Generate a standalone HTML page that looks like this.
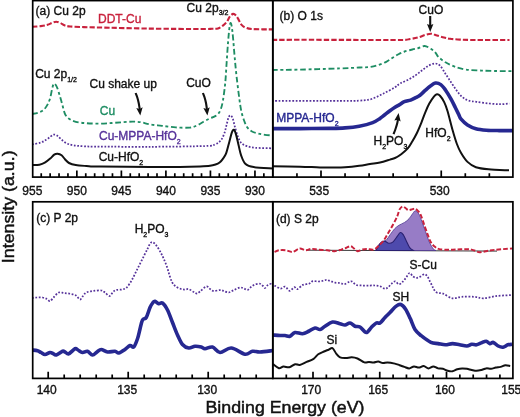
<!DOCTYPE html>
<html><head><meta charset="utf-8"><title>XPS spectra</title>
<style>html,body{margin:0;padding:0;background:#fff;}svg{display:block;}</style>
</head><body>
<svg width="520" height="417" viewBox="0 0 520 417"><defs><clipPath id="ca"><rect x="32.7" y="0.6" width="240.10000000000002" height="176.5"/></clipPath><clipPath id="cb"><rect x="272.8" y="0.6" width="240.09999999999997" height="176.5"/></clipPath><clipPath id="cc"><rect x="32.7" y="201.8" width="240.10000000000002" height="176.59999999999997"/></clipPath><clipPath id="cd"><rect x="272.8" y="201.8" width="240.09999999999997" height="176.59999999999997"/></clipPath></defs><rect width="520" height="417" fill="#fff"/><g clip-path="url(#ca)"><path d="M32.00,26.80 C33.47,26.68 38.22,26.43 40.80,26.10 C43.38,25.77 45.60,25.35 47.50,24.80 C49.40,24.25 50.75,23.32 52.20,22.80 C53.65,22.28 54.85,21.67 56.20,21.70 C57.55,21.73 58.83,22.37 60.30,23.00 C61.77,23.63 63.32,24.92 65.00,25.50 C66.68,26.08 67.27,26.23 70.40,26.50 C73.53,26.77 78.87,26.93 83.80,27.10 C88.73,27.27 88.97,27.25 100.00,27.50 C111.03,27.75 133.33,28.35 150.00,28.60 C166.67,28.85 189.67,28.97 200.00,29.00 C210.33,29.03 209.00,28.90 212.00,28.80 C215.00,28.70 216.18,28.93 218.00,28.40 C219.82,27.87 221.40,26.75 222.90,25.60 C224.40,24.45 225.85,23.00 227.00,21.50 C228.15,20.00 228.77,17.87 229.80,16.60 C230.83,15.33 232.12,14.02 233.20,13.90 C234.28,13.78 235.37,14.87 236.30,15.90 C237.23,16.93 237.92,18.60 238.80,20.10 C239.68,21.60 240.45,23.63 241.60,24.90 C242.75,26.17 243.87,27.00 245.70,27.70 C247.53,28.40 248.05,28.82 252.60,29.10 C257.15,29.38 269.60,29.35 273.00,29.40" fill="none" stroke="#c8213c" stroke-width="2.1" stroke-dasharray="5.3 2.1" stroke-linejoin="round"/><path d="M32.00,114.00 C33.00,113.78 36.08,113.37 38.00,112.70 C39.92,112.03 41.92,111.35 43.50,110.00 C45.08,108.65 46.38,106.62 47.50,104.60 C48.62,102.58 49.42,100.58 50.20,97.90 C50.98,95.22 51.57,90.87 52.20,88.50 C52.83,86.13 53.22,83.93 54.00,83.70 C54.78,83.47 55.97,85.18 56.90,87.10 C57.83,89.02 58.70,92.28 59.60,95.20 C60.50,98.12 61.40,101.47 62.30,104.60 C63.20,107.73 63.88,111.65 65.00,114.00 C66.12,116.35 67.20,117.40 69.00,118.70 C70.80,120.00 72.88,121.05 75.80,121.80 C78.72,122.55 82.47,122.90 86.50,123.20 C90.53,123.50 95.77,123.63 100.00,123.60 C104.23,123.57 108.12,123.23 111.90,123.00 C115.68,122.77 119.23,122.43 122.70,122.20 C126.17,121.97 129.60,121.58 132.70,121.60 C135.80,121.62 138.42,121.83 141.30,122.30 C144.18,122.77 146.55,123.82 150.00,124.40 C153.45,124.98 157.70,125.30 162.00,125.80 C166.30,126.30 171.13,127.10 175.80,127.40 C180.47,127.70 186.47,127.93 190.00,127.60 C193.53,127.27 194.75,126.37 197.00,125.40 C199.25,124.43 201.50,122.90 203.50,121.80 C205.50,120.70 207.42,119.57 209.00,118.80 C210.58,118.03 211.58,117.92 213.00,117.20 C214.42,116.48 216.25,115.70 217.50,114.50 C218.75,113.30 219.60,112.30 220.50,110.00 C221.40,107.70 222.12,105.13 222.90,100.70 C223.68,96.27 224.58,89.65 225.20,83.40 C225.82,77.15 226.13,69.93 226.60,63.20 C227.07,56.47 227.53,48.87 228.00,43.00 C228.47,37.13 228.97,31.35 229.40,28.00 C229.83,24.65 230.20,23.07 230.60,22.90 C231.00,22.73 231.40,24.60 231.80,27.00 C232.20,29.40 232.52,32.22 233.00,37.30 C233.48,42.38 234.08,50.78 234.70,57.50 C235.32,64.22 235.88,70.40 236.70,77.60 C237.52,84.80 238.80,94.97 239.60,100.70 C240.40,106.43 240.78,108.78 241.50,112.00 C242.22,115.22 242.98,117.50 243.90,120.00 C244.82,122.50 245.65,125.08 247.00,127.00 C248.35,128.92 250.12,130.42 252.00,131.50 C253.88,132.58 256.13,132.95 258.30,133.50 C260.47,134.05 262.55,134.47 265.00,134.80 C267.45,135.13 271.67,135.38 273.00,135.50" fill="none" stroke="#1e8d63" stroke-width="1.85" stroke-dasharray="5.8 2.7 2.9 2.7" stroke-linejoin="round"/><path d="M32.00,144.50 C33.47,144.17 38.43,143.28 40.80,142.50 C43.17,141.72 44.63,140.75 46.20,139.80 C47.77,138.85 48.97,137.65 50.20,136.80 C51.43,135.95 52.48,134.92 53.60,134.70 C54.72,134.48 55.67,134.77 56.90,135.50 C58.13,136.23 59.43,137.82 61.00,139.10 C62.57,140.38 64.28,142.18 66.30,143.20 C68.32,144.22 70.18,144.68 73.10,145.20 C76.02,145.72 79.32,146.07 83.80,146.30 C88.28,146.53 88.97,146.52 100.00,146.60 C111.03,146.68 132.50,146.90 150.00,146.80 C167.50,146.70 194.15,146.42 205.00,146.00 C215.85,145.58 212.45,145.27 215.10,144.30 C217.75,143.33 219.37,142.00 220.90,140.20 C222.43,138.40 223.37,136.02 224.30,133.50 C225.23,130.98 225.80,127.75 226.50,125.10 C227.20,122.45 227.83,119.22 228.50,117.60 C229.17,115.98 229.80,115.27 230.50,115.40 C231.20,115.53 231.97,116.50 232.70,118.40 C233.43,120.30 234.07,123.87 234.90,126.80 C235.73,129.73 236.67,133.33 237.70,136.00 C238.73,138.67 239.57,141.12 241.10,142.80 C242.63,144.48 244.53,145.27 246.90,146.10 C249.27,146.93 250.95,147.43 255.30,147.80 C259.65,148.17 270.05,148.22 273.00,148.30" fill="none" stroke="#56329a" stroke-width="1.75" stroke-dasharray="1.75 1.65" stroke-linejoin="round"/><path d="M32.00,165.10 C33.23,165.03 37.27,165.10 39.40,164.70 C41.53,164.30 43.00,163.72 44.80,162.70 C46.60,161.68 48.63,159.95 50.20,158.60 C51.77,157.25 52.97,155.42 54.20,154.60 C55.43,153.78 56.37,153.58 57.60,153.70 C58.83,153.82 60.37,154.37 61.60,155.30 C62.83,156.23 63.77,158.02 65.00,159.30 C66.23,160.58 67.20,162.03 69.00,163.00 C70.80,163.97 72.88,164.60 75.80,165.10 C78.72,165.60 82.47,165.75 86.50,166.00 C90.53,166.25 89.42,166.43 100.00,166.60 C110.58,166.77 136.67,166.95 150.00,167.00 C163.33,167.05 171.67,167.00 180.00,166.90 C188.33,166.80 195.00,166.58 200.00,166.40 C205.00,166.22 207.42,166.12 210.00,165.80 C212.58,165.48 213.90,165.05 215.50,164.50 C217.10,163.95 218.43,163.37 219.60,162.50 C220.77,161.63 221.43,160.77 222.50,159.30 C223.57,157.83 224.87,156.60 226.00,153.70 C227.13,150.80 228.33,145.40 229.30,141.90 C230.27,138.40 231.03,134.72 231.80,132.70 C232.57,130.68 233.20,129.52 233.90,129.80 C234.60,130.08 235.22,131.82 236.00,134.40 C236.78,136.98 237.75,141.82 238.60,145.30 C239.45,148.78 239.98,152.23 241.10,155.30 C242.22,158.37 243.20,161.73 245.30,163.70 C247.40,165.67 249.08,166.32 253.70,167.10 C258.32,167.88 269.78,168.18 273.00,168.40" fill="none" stroke="#111" stroke-width="2.0" stroke-linejoin="round"/></g><g clip-path="url(#cb)"><path d="M272.00,39.90 C276.67,39.88 287.00,39.80 300.00,39.80 C313.00,39.80 333.33,39.87 350.00,39.90 C366.67,39.93 390.00,40.15 400.00,40.00 C410.00,39.85 407.00,39.42 410.00,39.00 C413.00,38.58 415.50,38.17 418.00,37.50 C420.50,36.83 422.79,35.62 425.00,35.00 C427.21,34.38 429.25,33.67 431.25,33.75 C433.25,33.83 434.88,34.88 437.00,35.50 C439.12,36.12 441.83,36.96 444.00,37.50 C446.17,38.04 447.33,38.40 450.00,38.75 C452.67,39.10 455.83,39.39 460.00,39.60 C464.17,39.81 466.75,39.93 475.00,40.00 C483.25,40.07 503.75,40.00 509.50,40.00" fill="none" stroke="#c8213c" stroke-width="2.1" stroke-dasharray="5.3 2.1" stroke-linejoin="round"/><path d="M272.00,70.00 C276.67,69.93 288.67,69.87 300.00,69.60 C311.33,69.33 330.00,68.75 340.00,68.40 C350.00,68.05 354.87,67.75 360.00,67.50 C365.13,67.25 367.72,67.33 370.80,66.90 C373.88,66.47 375.93,65.75 378.50,64.90 C381.07,64.05 383.90,62.95 386.20,61.80 C388.50,60.65 390.25,59.27 392.30,58.00 C394.35,56.73 396.45,55.28 398.50,54.20 C400.55,53.12 402.30,52.28 404.60,51.50 C406.90,50.72 409.98,50.08 412.30,49.50 C414.62,48.92 416.45,48.58 418.50,48.00 C420.55,47.42 422.55,45.87 424.60,46.00 C426.65,46.13 429.00,47.70 430.80,48.80 C432.60,49.90 434.12,51.23 435.40,52.60 C436.68,53.97 436.82,55.38 438.50,57.00 C440.18,58.62 442.80,60.70 445.50,62.30 C448.20,63.90 451.25,65.38 454.70,66.60 C458.15,67.82 461.98,68.95 466.20,69.60 C470.42,70.25 475.20,70.27 480.00,70.50 C484.80,70.73 489.50,70.88 495.00,71.00 C500.50,71.12 510.00,71.17 513.00,71.20" fill="none" stroke="#1e8d63" stroke-width="1.85" stroke-dasharray="5.8 2.7 2.9 2.7" stroke-linejoin="round"/><path d="M272.00,100.90 C283.33,100.90 325.33,100.95 340.00,100.90 C354.67,100.85 354.75,100.92 360.00,100.60 C365.25,100.28 367.65,100.15 371.50,99.00 C375.35,97.85 379.25,95.62 383.10,93.70 C386.95,91.78 391.78,89.20 394.60,87.50 C397.42,85.80 397.82,84.75 400.00,83.50 C402.18,82.25 405.13,81.35 407.70,80.00 C410.27,78.65 413.10,76.93 415.40,75.40 C417.70,73.87 419.45,72.33 421.50,70.80 C423.55,69.27 425.52,67.42 427.70,66.20 C429.88,64.98 432.55,63.60 434.60,63.50 C436.65,63.40 438.17,63.85 440.00,65.60 C441.83,67.35 443.73,71.18 445.60,74.00 C447.47,76.82 449.32,79.68 451.20,82.50 C453.08,85.32 455.02,88.45 456.90,90.90 C458.78,93.35 460.63,95.62 462.50,97.20 C464.37,98.78 465.77,99.62 468.10,100.40 C470.43,101.18 472.98,101.38 476.50,101.90 C480.02,102.42 485.22,103.12 489.20,103.50 C493.18,103.88 497.02,104.20 500.40,104.20 C503.78,104.20 507.98,103.62 509.50,103.50" fill="none" stroke="#56329a" stroke-width="1.75" stroke-dasharray="1.75 1.65" stroke-linejoin="round"/><path d="M272.00,128.60 C276.67,128.60 290.33,128.63 300.00,128.60 C309.67,128.57 322.50,128.52 330.00,128.40 C337.50,128.28 340.13,128.27 345.00,127.90 C349.87,127.53 354.58,127.08 359.20,126.20 C363.82,125.32 369.23,123.90 372.70,122.60 C376.17,121.30 377.18,120.33 380.00,118.40 C382.82,116.47 387.10,112.87 389.60,111.00 C392.10,109.13 393.40,108.22 395.00,107.20 C396.60,106.18 397.65,105.82 399.20,104.90 C400.75,103.98 402.40,102.50 404.30,101.70 C406.20,100.90 408.78,100.73 410.60,100.10 C412.42,99.47 413.63,98.72 415.20,97.90 C416.77,97.08 418.33,96.45 420.00,95.20 C421.67,93.95 423.52,91.88 425.20,90.40 C426.88,88.92 428.40,87.53 430.10,86.30 C431.80,85.07 433.62,83.28 435.40,83.00 C437.18,82.72 439.10,83.40 440.80,84.60 C442.50,85.80 443.87,87.75 445.60,90.20 C447.33,92.65 449.57,96.37 451.20,99.30 C452.83,102.23 454.18,105.35 455.40,107.80 C456.62,110.25 457.55,112.10 458.50,114.00 C459.45,115.90 459.60,117.38 461.10,119.20 C462.60,121.02 465.03,123.32 467.50,124.90 C469.97,126.48 472.73,127.82 475.90,128.70 C479.07,129.58 482.62,129.88 486.50,130.20 C490.38,130.52 494.78,130.53 499.20,130.60 C503.62,130.67 510.70,130.60 513.00,130.60" fill="none" stroke="#262891" stroke-width="3.6" stroke-linejoin="round"/><path d="M272.00,166.20 C276.67,166.28 292.00,166.50 300.00,166.70 C308.00,166.90 314.17,167.25 320.00,167.40 C325.83,167.55 330.83,167.62 335.00,167.60 C339.17,167.58 340.97,167.60 345.00,167.30 C349.03,167.00 355.03,166.35 359.20,165.80 C363.37,165.25 366.53,164.55 370.00,164.00 C373.47,163.45 376.67,163.23 380.00,162.50 C383.33,161.77 387.50,160.35 390.00,159.60 C392.50,158.85 393.13,158.90 395.00,158.00 C396.87,157.10 399.12,155.75 401.20,154.20 C403.28,152.65 405.68,150.78 407.50,148.70 C409.32,146.62 410.55,144.28 412.10,141.70 C413.65,139.12 415.23,136.43 416.80,133.20 C418.37,129.97 420.07,125.82 421.50,122.30 C422.93,118.78 424.10,115.22 425.40,112.10 C426.70,108.98 427.88,106.18 429.30,103.60 C430.72,101.02 432.62,98.15 433.90,96.60 C435.18,95.05 435.98,94.43 437.00,94.30 C438.02,94.17 438.80,94.50 440.00,95.80 C441.20,97.10 442.95,99.57 444.20,102.10 C445.45,104.63 446.08,106.27 447.50,111.00 C448.92,115.73 451.13,125.00 452.70,130.50 C454.27,136.00 455.50,140.25 456.90,144.00 C458.30,147.75 459.33,150.02 461.10,153.00 C462.87,155.98 465.03,159.53 467.50,161.90 C469.97,164.27 472.38,165.97 475.90,167.20 C479.42,168.43 483.08,168.78 488.60,169.30 C494.12,169.82 505.60,170.13 509.00,170.30" fill="none" stroke="#111" stroke-width="2.0" stroke-linejoin="round"/></g><g clip-path="url(#cc)"><path d="M32.00,298.00 C32.83,297.92 35.25,297.58 37.00,297.50 C38.75,297.42 40.83,297.25 42.50,297.50 C44.17,297.75 45.75,298.42 47.00,299.00 C48.25,299.58 48.83,301.33 50.00,301.00 C51.17,300.67 52.54,298.42 54.00,297.00 C55.46,295.58 57.08,293.17 58.75,292.50 C60.42,291.83 62.12,292.79 64.00,293.00 C65.88,293.21 68.00,293.33 70.00,293.75 C72.00,294.17 74.33,294.54 76.00,295.50 C77.67,296.46 78.83,299.42 80.00,299.50 C81.17,299.58 81.96,297.17 83.00,296.00 C84.04,294.83 84.58,293.33 86.25,292.50 C87.92,291.67 90.50,291.33 93.00,291.00 C95.50,290.67 99.25,290.25 101.25,290.50 C103.25,290.75 103.62,291.58 105.00,292.50 C106.38,293.42 108.17,296.08 109.50,296.00 C110.83,295.92 111.88,293.00 113.00,292.00 C114.12,291.00 114.75,290.42 116.25,290.00 C117.75,289.58 120.26,289.92 122.00,289.50 C123.74,289.08 125.08,289.03 126.70,287.50 C128.32,285.97 130.17,282.88 131.70,280.30 C133.23,277.72 134.50,274.78 135.90,272.00 C137.30,269.22 138.70,266.40 140.10,263.60 C141.50,260.80 143.03,257.72 144.30,255.20 C145.57,252.68 146.72,250.47 147.70,248.50 C148.68,246.53 149.37,244.47 150.20,243.40 C151.03,242.33 151.72,241.82 152.70,242.10 C153.68,242.38 154.83,243.48 156.10,245.10 C157.37,246.72 159.05,249.57 160.30,251.80 C161.55,254.03 162.48,255.98 163.60,258.50 C164.72,261.02 166.02,264.10 167.00,266.90 C167.98,269.70 168.67,272.78 169.50,275.30 C170.33,277.82 171.02,280.18 172.00,282.00 C172.98,283.82 174.00,285.08 175.40,286.20 C176.80,287.32 178.87,288.13 180.40,288.70 C181.93,289.27 183.20,289.53 184.60,289.60 C186.00,289.67 187.27,288.68 188.80,289.10 C190.33,289.52 192.43,291.37 193.80,292.10 C195.17,292.83 195.97,293.60 197.00,293.50 C198.03,293.40 198.46,292.67 200.00,291.50 C201.54,290.33 204.58,286.92 206.25,286.50 C207.92,286.08 208.75,288.25 210.00,289.00 C211.25,289.75 212.08,290.83 213.75,291.00 C215.42,291.17 218.29,290.00 220.00,290.00 C221.71,290.00 222.54,290.58 224.00,291.00 C225.46,291.42 227.08,292.67 228.75,292.50 C230.42,292.33 232.12,290.83 234.00,290.00 C235.88,289.17 238.33,287.75 240.00,287.50 C241.67,287.25 242.75,288.08 244.00,288.50 C245.25,288.92 246.33,290.25 247.50,290.00 C248.67,289.75 249.75,287.92 251.00,287.00 C252.25,286.08 253.50,285.04 255.00,284.50 C256.50,283.96 258.67,283.50 260.00,283.75 C261.33,284.00 262.17,285.29 263.00,286.00 C263.83,286.71 264.17,288.17 265.00,288.00 C265.83,287.83 266.67,285.83 268.00,285.00 C269.33,284.17 272.17,283.33 273.00,283.00" fill="none" stroke="#56329a" stroke-width="1.75" stroke-dasharray="1.75 1.65" stroke-linejoin="round"/><path d="M32.00,350.00 C32.92,350.12 36.00,350.33 37.50,350.75 C39.00,351.17 39.75,351.88 41.00,352.50 C42.25,353.12 43.50,354.50 45.00,354.50 C46.50,354.50 48.67,352.67 50.00,352.50 C51.33,352.33 51.96,353.08 53.00,353.50 C54.04,353.92 54.67,355.38 56.25,355.00 C57.83,354.62 61.04,351.75 62.50,351.25 C63.96,350.75 63.96,351.58 65.00,352.00 C66.04,352.42 67.08,354.29 68.75,353.75 C70.42,353.21 73.46,349.38 75.00,348.75 C76.54,348.12 76.75,349.38 78.00,350.00 C79.25,350.62 80.92,352.29 82.50,352.50 C84.08,352.71 85.83,350.83 87.50,351.25 C89.17,351.67 90.92,354.88 92.50,355.00 C94.08,355.12 95.54,352.92 97.00,352.00 C98.46,351.08 99.50,349.50 101.25,349.50 C103.00,349.50 105.21,351.71 107.50,352.00 C109.79,352.29 113.12,351.08 115.00,351.25 C116.88,351.42 117.08,353.29 118.75,353.00 C120.42,352.71 123.12,350.75 125.00,349.50 C126.88,348.25 128.54,345.92 130.00,345.50 C131.46,345.08 132.50,348.12 133.75,347.00 C135.00,345.88 136.46,341.75 137.50,338.75 C138.54,335.75 139.17,332.12 140.00,329.00 C140.83,325.88 141.46,321.92 142.50,320.00 C143.54,318.08 145.00,319.58 146.25,317.50 C147.50,315.42 148.88,310.00 150.00,307.50 C151.12,305.00 152.17,303.54 153.00,302.50 C153.83,301.46 154.04,301.04 155.00,301.25 C155.96,301.46 157.50,303.46 158.75,303.75 C160.00,304.04 161.04,301.96 162.50,303.00 C163.96,304.04 165.83,306.75 167.50,310.00 C169.17,313.25 170.83,318.33 172.50,322.50 C174.17,326.67 175.83,331.33 177.50,335.00 C179.17,338.67 180.62,342.33 182.50,344.50 C184.38,346.67 186.67,347.71 188.75,348.00 C190.83,348.29 192.92,346.42 195.00,346.25 C197.08,346.08 199.58,346.58 201.25,347.00 C202.92,347.42 203.12,348.75 205.00,348.75 C206.88,348.75 210.00,346.38 212.50,347.00 C215.00,347.62 216.88,352.33 220.00,352.50 C223.12,352.67 227.08,347.71 231.25,348.00 C235.42,348.29 241.46,353.71 245.00,354.25 C248.54,354.79 250.00,351.62 252.50,351.25 C255.00,350.88 256.58,352.12 260.00,352.00 C263.42,351.88 270.83,350.75 273.00,350.50" fill="none" stroke="#262891" stroke-width="3.6" stroke-linejoin="round"/></g><g clip-path="url(#cd)"><path d="M306,250.2 L497,251.1" stroke="#3a3a3a" stroke-width="1.0" fill="none"/><path d="M375.80,250.50 C376.25,249.58 377.55,246.45 378.50,245.00 C379.45,243.55 380.27,242.57 381.50,241.80 C382.73,241.03 384.45,241.60 385.90,240.40 C387.35,239.20 388.77,236.52 390.20,234.60 C391.63,232.68 393.05,230.45 394.50,228.90 C395.95,227.35 397.22,226.38 398.90,225.30 C400.58,224.22 402.92,223.48 404.60,222.40 C406.28,221.32 407.67,220.25 409.00,218.80 C410.33,217.35 411.52,215.03 412.60,213.70 C413.68,212.37 414.42,210.68 415.50,210.80 C416.58,210.92 418.03,212.60 419.10,214.40 C420.17,216.20 420.82,218.72 421.90,221.60 C422.98,224.48 424.38,228.33 425.60,231.70 C426.82,235.07 427.88,238.90 429.20,241.80 C430.52,244.70 432.37,247.65 433.50,249.10 C434.63,250.55 435.58,250.27 436.00,250.50 Z" fill="#977cc6" stroke="#4d3590" stroke-width="0.8"/><path d="M375.80,250.50 C376.52,249.42 378.67,245.57 380.10,244.00 C381.53,242.43 382.95,241.22 384.40,241.10 C385.85,240.98 387.35,243.18 388.80,243.30 C390.25,243.42 391.67,243.00 393.10,241.80 C394.53,240.60 396.20,237.65 397.40,236.10 C398.60,234.55 399.33,232.75 400.30,232.50 C401.27,232.25 402.23,233.28 403.20,234.60 C404.17,235.92 405.02,238.23 406.10,240.40 C407.18,242.57 408.50,245.92 409.70,247.60 C410.90,249.28 412.70,250.02 413.30,250.50 Z" fill="#4e4aad" stroke="#2a2070" stroke-width="1.1"/><path d="M274.50,251.90 C275.25,251.63 277.10,250.57 279.00,250.30 C280.90,250.03 283.60,250.03 285.90,250.30 C288.20,250.57 290.50,252.20 292.80,251.90 C295.10,251.60 297.58,248.77 299.70,248.50 C301.82,248.23 303.57,250.23 305.50,250.30 C307.43,250.37 309.18,249.02 311.30,248.90 C313.42,248.78 315.52,249.37 318.20,249.60 C320.88,249.83 324.70,250.03 327.40,250.30 C330.10,250.57 332.08,251.32 334.40,251.20 C336.72,251.08 339.38,250.13 341.30,249.60 C343.22,249.07 344.37,248.57 345.90,248.00 C347.43,247.43 349.15,246.12 350.50,246.20 C351.85,246.28 352.83,247.67 354.00,248.50 C355.17,249.33 356.15,251.02 357.50,251.20 C358.85,251.38 360.57,249.98 362.10,249.60 C363.63,249.22 364.78,248.90 366.70,248.90 C368.62,248.90 371.68,250.05 373.60,249.60 C375.52,249.15 376.65,247.55 378.20,246.20 C379.75,244.85 381.38,243.43 382.90,241.50 C384.42,239.57 385.60,237.43 387.30,234.60 C389.00,231.77 391.42,227.62 393.10,224.50 C394.78,221.38 396.32,218.42 397.40,215.90 C398.48,213.38 398.75,210.97 399.60,209.40 C400.45,207.83 401.52,206.73 402.50,206.50 C403.48,206.27 404.55,207.40 405.50,208.00 C406.45,208.60 407.20,209.85 408.20,210.10 C409.20,210.35 410.42,209.73 411.50,209.50 C412.58,209.27 413.70,208.53 414.70,208.70 C415.70,208.87 416.53,209.55 417.50,210.50 C418.47,211.45 419.40,212.07 420.50,214.40 C421.60,216.73 422.90,221.13 424.10,224.50 C425.30,227.87 426.62,231.72 427.70,234.60 C428.78,237.48 429.52,239.87 430.60,241.80 C431.68,243.73 432.75,244.98 434.20,246.20 C435.65,247.42 436.67,248.50 439.30,249.10 C441.93,249.70 446.42,249.77 450.00,249.80 C453.58,249.83 457.22,249.33 460.80,249.30 C464.38,249.27 468.37,249.12 471.50,249.60 C474.63,250.08 477.02,251.97 479.60,252.20 C482.18,252.43 484.43,251.40 487.00,251.00 C489.57,250.60 490.83,250.22 495.00,249.80 C499.17,249.38 509.17,248.72 512.00,248.50" fill="none" stroke="#c8213c" stroke-width="1.95" stroke-dasharray="4.6 2.0" stroke-linejoin="round"/><path d="M274.50,285.40 C275.12,285.78 277.08,287.18 278.20,287.70 C279.32,288.22 280.05,288.68 281.20,288.50 C282.35,288.32 283.68,286.22 285.10,286.60 C286.52,286.98 288.17,290.70 289.70,290.80 C291.23,290.90 293.02,287.47 294.30,287.20 C295.58,286.93 295.98,289.58 297.40,289.20 C298.82,288.82 300.88,285.80 302.80,284.90 C304.72,284.00 307.23,284.43 308.90,283.80 C310.57,283.17 311.25,281.48 312.80,281.10 C314.35,280.72 316.53,281.55 318.20,281.50 C319.87,281.45 321.40,281.05 322.80,280.80 C324.20,280.55 325.32,279.95 326.60,280.00 C327.88,280.05 329.08,280.67 330.50,281.10 C331.92,281.53 333.43,282.27 335.10,282.60 C336.77,282.93 338.97,282.83 340.50,283.10 C342.03,283.37 342.90,284.38 344.30,284.20 C345.70,284.02 347.62,282.45 348.90,282.00 C350.18,281.55 350.77,281.00 352.00,281.50 C353.23,282.00 354.42,284.33 356.25,285.00 C358.08,285.67 360.71,285.42 363.00,285.50 C365.29,285.58 368.00,285.50 370.00,285.50 C372.00,285.50 373.33,285.38 375.00,285.50 C376.67,285.62 378.33,285.71 380.00,286.25 C381.67,286.79 383.67,288.57 385.00,288.75 C386.33,288.93 386.90,288.14 388.00,287.30 C389.10,286.46 390.40,284.70 391.60,283.70 C392.80,282.70 394.00,281.20 395.20,281.30 C396.40,281.40 397.60,284.18 398.80,284.30 C400.00,284.42 401.20,283.08 402.40,282.00 C403.60,280.92 404.80,279.30 406.00,277.80 C407.20,276.30 408.42,273.20 409.60,273.00 C410.78,272.80 411.92,275.80 413.10,276.60 C414.28,277.40 415.50,277.80 416.70,277.80 C417.90,277.80 419.00,277.20 420.30,276.60 C421.60,276.00 423.30,274.20 424.50,274.20 C425.70,274.20 426.60,275.42 427.50,276.60 C428.40,277.78 429.10,279.72 429.90,281.30 C430.70,282.88 431.60,284.70 432.30,286.10 C433.00,287.50 433.30,288.60 434.10,289.70 C434.90,290.80 435.62,292.05 437.10,292.70 C438.58,293.35 440.47,292.67 443.00,293.60 C445.53,294.53 449.18,297.77 452.30,298.30 C455.42,298.83 458.05,297.05 461.70,296.80 C465.35,296.55 470.57,296.55 474.20,296.80 C477.83,297.05 479.87,298.42 483.50,298.30 C487.13,298.18 491.83,296.62 496.00,296.10 C500.17,295.58 505.83,295.38 508.50,295.20 C511.17,295.02 511.42,295.03 512.00,295.00" fill="none" stroke="#56329a" stroke-width="1.75" stroke-dasharray="1.75 1.65" stroke-linejoin="round"/><path d="M273.00,335.00 C274.17,335.08 278.00,335.42 280.00,335.50 C282.00,335.58 283.33,335.38 285.00,335.50 C286.67,335.62 288.33,336.75 290.00,336.25 C291.67,335.75 292.92,332.92 295.00,332.50 C297.08,332.08 300.21,333.96 302.50,333.75 C304.79,333.54 306.67,332.21 308.75,331.25 C310.83,330.29 313.12,328.29 315.00,328.00 C316.88,327.71 318.33,329.79 320.00,329.50 C321.67,329.21 322.92,327.50 325.00,326.25 C327.08,325.00 330.00,322.42 332.50,322.00 C335.00,321.58 337.92,323.25 340.00,323.75 C342.08,324.25 343.33,325.12 345.00,325.00 C346.67,324.88 348.33,322.79 350.00,323.00 C351.67,323.21 353.33,325.58 355.00,326.25 C356.67,326.92 358.12,325.96 360.00,327.00 C361.88,328.04 364.38,332.42 366.25,332.50 C368.12,332.58 369.58,329.08 371.25,327.50 C372.92,325.92 374.79,323.75 376.25,323.00 C377.71,322.25 378.54,323.92 380.00,323.00 C381.46,322.08 383.33,319.25 385.00,317.50 C386.67,315.75 388.13,314.40 390.00,312.50 C391.87,310.60 394.38,307.43 396.20,306.10 C398.02,304.77 399.33,303.98 400.90,304.50 C402.47,305.02 404.03,306.85 405.60,309.20 C407.17,311.55 408.73,315.22 410.30,318.60 C411.87,321.98 413.18,326.65 415.00,329.50 C416.82,332.35 418.55,333.55 421.20,335.70 C423.85,337.85 428.08,341.08 430.90,342.40 C433.72,343.72 435.70,343.20 438.10,343.60 C440.50,344.00 442.90,344.80 445.30,344.80 C447.70,344.80 450.10,343.60 452.50,343.60 C454.90,343.60 457.30,344.40 459.70,344.80 C462.10,345.20 464.90,346.08 466.90,346.00 C468.90,345.92 470.10,344.50 471.70,344.30 C473.30,344.10 474.90,345.03 476.50,344.80 C478.10,344.57 479.68,343.50 481.30,342.90 C482.92,342.30 484.78,341.08 486.20,341.20 C487.62,341.32 488.60,343.40 489.80,343.60 C491.00,343.80 492.00,342.00 493.40,342.40 C494.80,342.80 496.60,345.20 498.20,346.00 C499.80,346.80 501.40,347.40 503.00,347.20 C504.60,347.00 506.30,345.28 507.80,344.80 C509.30,344.32 511.30,344.38 512.00,344.30" fill="none" stroke="#262891" stroke-width="3.6" stroke-linejoin="round"/><path d="M273.00,364.20 C273.98,364.87 277.15,367.80 278.90,368.20 C280.65,368.60 281.77,366.75 283.50,366.60 C285.23,366.45 287.37,367.70 289.30,367.30 C291.23,366.90 293.37,364.60 295.10,364.20 C296.83,363.80 297.78,365.28 299.70,364.90 C301.62,364.52 304.28,362.90 306.60,361.90 C308.92,360.90 311.67,360.17 313.60,358.90 C315.53,357.63 316.47,355.53 318.20,354.30 C319.93,353.07 322.27,352.27 324.00,351.50 C325.73,350.73 327.18,350.27 328.60,349.70 C330.02,349.13 331.23,347.45 332.50,348.10 C333.77,348.75 334.93,352.05 336.20,353.60 C337.47,355.15 338.48,356.67 340.10,357.40 C341.72,358.13 343.97,358.02 345.90,358.00 C347.83,357.98 349.77,357.22 351.70,357.30 C353.63,357.38 355.38,357.65 357.50,358.50 C359.62,359.35 362.48,361.83 364.40,362.40 C366.32,362.97 367.47,361.87 369.00,361.90 C370.53,361.93 372.07,362.67 373.60,362.60 C375.13,362.53 376.65,361.42 378.20,361.50 C379.75,361.58 381.35,362.95 382.90,363.10 C384.45,363.25 385.52,362.32 387.50,362.40 C389.48,362.48 392.78,363.13 394.80,363.60 C396.82,364.07 398.00,364.65 399.60,365.20 C401.20,365.75 402.80,366.37 404.40,366.90 C406.00,367.43 407.60,368.48 409.20,368.40 C410.80,368.32 412.40,366.53 414.00,366.40 C415.60,366.27 417.18,367.67 418.80,367.60 C420.42,367.53 422.08,365.87 423.70,366.00 C425.32,366.13 426.90,368.33 428.50,368.40 C430.10,368.47 431.70,366.40 433.30,366.40 C434.90,366.40 436.50,368.00 438.10,368.40 C439.70,368.80 441.30,368.40 442.90,368.80 C444.50,369.20 446.10,370.38 447.70,370.80 C449.30,371.22 450.90,371.55 452.50,371.30 C454.10,371.05 455.70,369.78 457.30,369.30 C458.90,368.82 460.50,368.48 462.10,368.40 C463.70,368.32 465.30,368.53 466.90,368.80 C468.50,369.07 470.10,369.67 471.70,370.00 C473.30,370.33 474.90,370.80 476.50,370.80 C478.10,370.80 479.68,370.40 481.30,370.00 C482.92,369.60 484.58,368.60 486.20,368.40 C487.82,368.20 489.40,368.93 491.00,368.80 C492.60,368.67 494.20,367.92 495.80,367.60 C497.40,367.28 499.00,367.30 500.60,366.90 C502.20,366.50 503.80,365.35 505.40,365.20 C507.00,365.05 509.40,365.87 510.20,366.00" fill="none" stroke="#111" stroke-width="2.0" stroke-linejoin="round"/></g><rect x="32.7" y="0.6" width="240.10000000000002" height="176.5" fill="none" stroke="#000" stroke-width="1.7"/><rect x="272.8" y="0.6" width="240.09999999999997" height="176.5" fill="none" stroke="#000" stroke-width="1.7"/><rect x="32.7" y="201.8" width="240.10000000000002" height="176.59999999999997" fill="none" stroke="#000" stroke-width="1.7"/><rect x="272.8" y="201.8" width="240.09999999999997" height="176.59999999999997" fill="none" stroke="#000" stroke-width="1.7"/><path d="M263.86,177.10V173.20M254.95,177.10V170.50M246.05,177.10V173.20M237.14,177.10V173.20M228.24,177.10V173.20M219.33,177.10V173.20M210.43,177.10V170.50M201.52,177.10V173.20M192.62,177.10V173.20M183.71,177.10V173.20M174.81,177.10V173.20M165.90,177.10V170.50M157.00,177.10V173.20M148.09,177.10V173.20M139.19,177.10V173.20M130.28,177.10V173.20M121.38,177.10V170.50M112.47,177.10V173.20M103.57,177.10V173.20M94.66,177.10V173.20M85.76,177.10V173.20M76.85,177.10V170.50M67.95,177.10V173.20M59.04,177.10V173.20M50.14,177.10V173.20M41.23,177.10V173.20" stroke="#000" stroke-width="1.7" fill="none"/><path d="M489.35,177.10V173.20M465.30,177.10V173.20M441.25,177.10V170.50M417.20,177.10V173.20M393.15,177.10V173.20M369.10,177.10V173.20M345.05,177.10V173.20M321.00,177.10V170.50M296.95,177.10V173.20" stroke="#000" stroke-width="1.7" fill="none"/><path d="M256.20,378.40V374.50M240.20,378.40V374.50M224.20,378.40V374.50M208.20,378.40V371.80M192.20,378.40V374.50M176.20,378.40V374.50M160.20,378.40V374.50M144.20,378.40V374.50M128.20,378.40V371.80M112.20,378.40V374.50M96.20,378.40V374.50M80.20,378.40V374.50M64.20,378.40V374.50M48.20,378.40V371.80" stroke="#000" stroke-width="1.7" fill="none"/><path d="M499.90,378.40V374.50M486.55,378.40V374.50M473.20,378.40V374.50M459.85,378.40V374.50M446.50,378.40V371.80M433.15,378.40V374.50M419.80,378.40V374.50M406.45,378.40V374.50M393.10,378.40V374.50M379.75,378.40V371.80M366.40,378.40V374.50M353.05,378.40V374.50M339.70,378.40V374.50M326.35,378.40V374.50M313.00,378.40V371.80M299.65,378.40V374.50M286.30,378.40V374.50" stroke="#000" stroke-width="1.7" fill="none"/><g font-family="'Liberation Sans', Arial, Helvetica, sans-serif" fill="#111"><text x="32.33" y="194.6" text-anchor="middle" font-size="12" stroke="#111" stroke-width="0.35">955</text><text x="76.85" y="194.6" text-anchor="middle" font-size="12" stroke="#111" stroke-width="0.35">950</text><text x="121.38" y="194.6" text-anchor="middle" font-size="12" stroke="#111" stroke-width="0.35">945</text><text x="165.90" y="194.6" text-anchor="middle" font-size="12" stroke="#111" stroke-width="0.35">940</text><text x="210.43" y="194.6" text-anchor="middle" font-size="12" stroke="#111" stroke-width="0.35">935</text><text x="254.95" y="194.6" text-anchor="middle" font-size="12" stroke="#111" stroke-width="0.35">930</text><text x="319.20" y="194.6" text-anchor="middle" font-size="12" stroke="#111" stroke-width="0.35">535</text><text x="439.65" y="194.6" text-anchor="middle" font-size="12" stroke="#111" stroke-width="0.35">530</text><text x="46.70" y="393.8" text-anchor="middle" font-size="12" stroke="#111" stroke-width="0.35">140</text><text x="127.20" y="393.8" text-anchor="middle" font-size="12" stroke="#111" stroke-width="0.35">135</text><text x="207.20" y="393.8" text-anchor="middle" font-size="12" stroke="#111" stroke-width="0.35">130</text><text x="311.20" y="393.8" text-anchor="middle" font-size="12" stroke="#111" stroke-width="0.35">170</text><text x="378.15" y="393.8" text-anchor="middle" font-size="12" stroke="#111" stroke-width="0.35">165</text><text x="444.90" y="393.8" text-anchor="middle" font-size="12" stroke="#111" stroke-width="0.35">160</text><text x="511.25" y="393.8" text-anchor="middle" font-size="12" stroke="#111" stroke-width="0.35">155</text></g><text font-family="'Liberation Sans', Arial, Helvetica, sans-serif" x="285" y="412.8" text-anchor="middle" font-size="16.5" fill="#111" stroke="#111" stroke-width="0.45" textLength="159" lengthAdjust="spacingAndGlyphs">Binding Energy (eV)</text><text font-family="'Liberation Sans', Arial, Helvetica, sans-serif" transform="translate(14.3,206.8) rotate(-90)" text-anchor="middle" font-size="16.5" fill="#111" stroke="#111" stroke-width="0.45" textLength="112.7" lengthAdjust="spacingAndGlyphs">Intensity (a.u.)</text><g font-family="'Liberation Sans', Arial, Helvetica, sans-serif"><text x="35.6" y="14.5" font-size="12" fill="#111" stroke="#111" stroke-width="0.35">(a) Cu 2p</text><text x="98" y="22.6" font-size="12" fill="#c8213c" stroke="#c8213c" stroke-width="0.35">DDT-Cu</text><text x="186.6" y="12.2" font-size="12" fill="#111" stroke="#111" stroke-width="0.35">Cu 2p<tspan font-size="7" dy="3.0">3/2</tspan></text><text x="35.2" y="77.6" font-size="12" fill="#111" stroke="#111" stroke-width="0.35">Cu 2p<tspan font-size="7" dy="4.0">1/2</tspan></text><text x="89.5" y="87.5" font-size="12" fill="#111" stroke="#111" stroke-width="0.35">Cu shake up</text><text x="186.2" y="87.3" font-size="12" fill="#111" stroke="#111" stroke-width="0.35">CuO</text><text x="99.8" y="114.8" font-size="12" fill="#1e8d63" stroke="#1e8d63" stroke-width="0.35">Cu</text><text x="99" y="140.3" font-size="12" fill="#56329a" stroke="#56329a" stroke-width="0.35">Cu-MPPA-HfO<tspan font-size="7" dy="4.0">2</tspan></text><text x="98.7" y="161.4" font-size="12" fill="#111" stroke="#111" stroke-width="0.35">Cu-HfO<tspan font-size="7" dy="4.0">2</tspan></text><text x="279.6" y="19.6" font-size="12" fill="#111" stroke="#111" stroke-width="0.35">(b) O 1s</text><text x="418.6" y="13.8" font-size="12" fill="#111" stroke="#111" stroke-width="0.35">CuO</text><text x="276.2" y="121.5" font-size="12" fill="#262891" stroke="#262891" stroke-width="0.35">MPPA-HfO<tspan font-size="7" dy="4.0">2</tspan></text><text x="373.5" y="144.6" font-size="12" fill="#111" stroke="#111" stroke-width="0.35">H<tspan font-size="7" dy="4.0">2</tspan><tspan dy="-4.0">PO</tspan><tspan font-size="7" dy="4.0">3</tspan></text><text x="425.3" y="137.2" font-size="12" fill="#111" stroke="#111" stroke-width="0.35">HfO<tspan font-size="7" dy="4.0">2</tspan></text><text x="36.2" y="222.3" font-size="12" fill="#111" stroke="#111" stroke-width="0.35">(c) P 2p</text><text x="134.7" y="232.5" font-size="12" fill="#111" stroke="#111" stroke-width="0.35">H<tspan font-size="7" dy="4.0">2</tspan><tspan dy="-4.0">PO</tspan><tspan font-size="7" dy="4.0">3</tspan></text><text x="275.9" y="222.6" font-size="12" fill="#111" stroke="#111" stroke-width="0.35">(d) S 2p</text><text x="409.6" y="268.7" font-size="12" fill="#111" stroke="#111" stroke-width="0.35">S-Cu</text><text x="392.4" y="300.5" font-size="12" fill="#111" stroke="#111" stroke-width="0.35">SH</text><text x="326.4" y="343.6" font-size="12" fill="#111" stroke="#111" stroke-width="0.35">Si</text></g><path d="M135.60,93.00 C135.88,93.75 136.78,95.83 137.30,97.50 C137.82,99.17 138.30,101.08 138.70,103.00 C139.10,104.92 139.53,108.00 139.70,109.00" fill="none" stroke="#111" stroke-width="2.1"/><path d="M140.30,115.60 L136.28,107.98 L139.60,108.94 L142.65,107.31 Z" fill="#111"/><path d="M202.90,93.00 C203.18,93.75 204.08,95.83 204.60,97.50 C205.12,99.17 205.62,101.08 206.00,103.00 C206.38,104.92 206.75,108.00 206.90,109.00" fill="none" stroke="#111" stroke-width="2.1"/><path d="M207.40,115.60 L203.38,107.98 L206.70,108.94 L209.75,107.31 Z" fill="#111"/><path d="M430.20,16.00 L430.20,27.00" fill="none" stroke="#111" stroke-width="2.1"/><path d="M430.20,32.00 L427.00,24.00 L430.20,25.30 L433.40,24.00 Z" fill="#111"/><path d="M393.50,134.10 C393.83,133.25 394.87,130.85 395.50,129.00 C396.13,127.15 396.85,124.83 397.30,123.00 C397.75,121.17 398.05,118.83 398.20,118.00" fill="none" stroke="#111" stroke-width="2.1"/><path d="M398.60,113.10 L400.66,121.47 L397.67,119.73 L394.32,120.58 Z" fill="#111"/></svg>
</body></html>
